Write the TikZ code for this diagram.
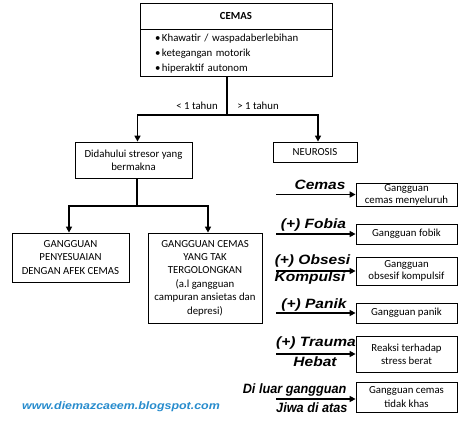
\documentclass[tikz,border=0pt]{standalone}
\usepackage{fontspec}
\setmainfont{Carlito}
\newfontfamily\labelfont[FakeStretch=1.15]{Liberation Sans}
\newfontfamily\narrowfont[FakeStretch=0.94]{Liberation Sans}
\usetikzlibrary{arrows.meta}
\definecolor{urlblue}{RGB}{40,140,205}

\begin{document}
\begin{tikzpicture}[x=1pt,y=-1pt,
    every node/.style={font=\fontsize{10.8}{13.4}\selectfont},
    box/.style={draw,line width=0.8pt,inner sep=1pt,align=center},
    rbox/.style={box,minimum width=101pt},
    conn/.style={line width=1.6pt,-{Triangle[width=6pt,length=6pt]}},
    lbl/.style={font=\labelfont\bfseries\itshape\fontsize{13.5}{16}\selectfont},
    nlbl/.style={font=\narrowfont\bfseries\itshape\fontsize{13.5}{16}\selectfont}]
        \useasboundingbox (0,0) rectangle (467,422);
        % top box
        \node[box,minimum width=192pt,minimum height=26pt] (cemas) at (236,16) {\textbf{CEMAS}};
        \node[box,minimum width=192pt,minimum height=47pt,text width=162pt,align=left,anchor=north,
          font=\fontsize{10.8}{15}\selectfont] (ciri) at (cemas.south)
          {\makebox[7pt][l]{\textbullet}Khawatir / waspadaberlebihan\\
           \makebox[7pt][l]{\textbullet}ketegangan motorik\\
           \makebox[7pt][l]{\textbullet}hiperaktif autonom};
        % first split
        \node[box,minimum width=117pt,minimum height=36pt] (didahului) at (133.5,160) {Didahului stresor yang\\bermakna};
        \node[box,minimum width=84pt,minimum height=20pt] (neurosis) at (315,152) {NEUROSIS};
        \node (kurang) at (197,106) {< 1 tahun};
        \node (lebih) at (258,106) {> 1 tahun};
        \coordinate (fork) at (227,115);
        \draw[line width=1.6pt] (ciri.south -| fork) -- (fork);
        \draw[conn] (fork) -| ([xshift=4pt]didahului.north);
        \draw[conn] (fork) -| ([xshift=3pt]neurosis.north);
        % left branch
        \node[box,minimum width=117pt,minimum height=49pt] (penyesuaian) at (70.5,257.5)
          {GANGGUAN\\PENYESUAIAN\\DENGAN AFEK CEMAS};
        \node[box,minimum width=114pt,minimum height=90pt] (tak) at (205,278)
          {GANGGUAN CEMAS\\YANG TAK\\TERGOLONGKAN\\(a.l gangguan\\campuran ansietas dan\\depresi)};
        \coordinate (fork2) at (137,206);
        \draw[line width=1.6pt] (didahului.south -| fork2) -- (fork2);
        \draw[conn] (fork2) -| ([xshift=-1.5pt]penyesuaian.north);
        \draw[conn] (fork2) -| ([xshift=3pt]tak.north);
        % neurosis list
        \node[rbox,minimum height=23pt,font=\fontsize{10.8}{12}\selectfont,inner sep=0.5pt] (menyeluruh) at (406.5,194.5) {Gangguan\\cemas menyeluruh};
        \node[rbox,minimum height=20pt] (fobik) at (406.5,234) {Gangguan fobik};
        \node[rbox,minimum height=28pt,font=\fontsize{10.8}{12.5}\selectfont] (obsesif) at (406.5,271) {Gangguan\\obsesif kompulsif};
        \node[rbox,minimum height=20pt] (panik) at (406.5,313) {Gangguan panik};
        \node[rbox,minimum height=36pt] (reaksi) at (406.5,354) {Reaksi terhadap\\stress berat};
        \node[rbox,minimum height=30pt] (khas) at (406.5,397) {Gangguan cemas\\tidak khas};
        \coordinate (incemas) at (276,194.5);
        \coordinate (infobia) at (276,234);
        \coordinate (inobsesi) at (276,271);
        \coordinate (inpanik) at (276,313);
        \coordinate (intrauma) at (276,354);
        \coordinate (inluar) at (276,399);
        \draw[conn] (incemas) -- (menyeluruh.west);
        \draw[conn] (infobia) -- (fobik.west);
        \draw[conn] (inobsesi) -- (obsesif.west);
        \draw[conn] (inpanik) -- (panik.west);
        \draw[conn] (intrauma) -- (reaksi.west);
        \draw[conn] (inluar) -- (inluar -| khas.west);
        \node[lbl] (lcemas) at (320,185) {Cemas};
        \node[lbl] (lfobia) at (313.5,225) {(+) Fobia};
        \node[lbl] (lobsesi) at (312.5,261) {(+) Obsesi};
        \node[lbl] (lkompulsi) at (310,278) {Kompulsi};
        \node[lbl] (lpanik) at (314,305) {(+) Panik};
        \node[lbl] (ltrauma) at (316,343) {(+) Trauma};
        \node[lbl] (lhebat) at (315,362) {Hebat};
        \node[nlbl,anchor=east] (lluar) at (350,390) {Di luar gangguan};
        \node[nlbl,anchor=east] (ljiwa) at (351,408) {Jiwa di atas};
        % footer
        \node[font=\labelfont\bfseries\itshape\fontsize{10.8}{13}\selectfont,text=urlblue] (url) at (121,407)
          {www.diemazcaeem.blogspot.com};
      \end{tikzpicture}
\end{document}
